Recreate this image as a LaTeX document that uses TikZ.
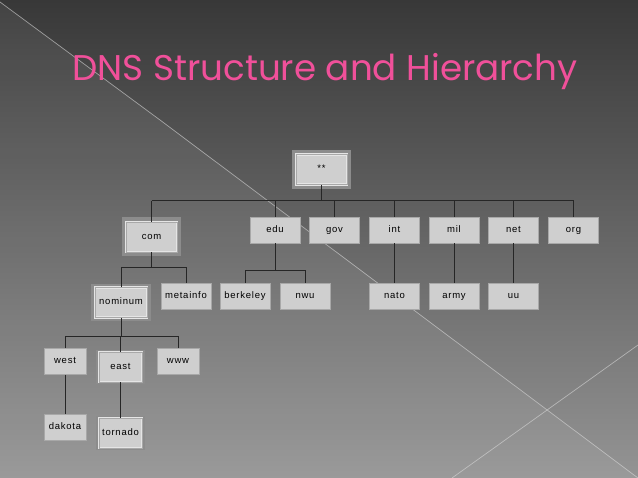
\documentclass[tikz,border=0pt]{standalone}
\usepackage{fontspec}
\setmainfont{Liberation Sans}
\newfontfamily\titlefont{Poppins}
\usepackage{graphicx}
\definecolor{bxfill}{HTML}{CFCFCF}
\definecolor{bxedge}{HTML}{A8A8A8}
\definecolor{hlfill}{HTML}{8C8C8C}
\definecolor{pinkt}{HTML}{F0509A}
\begin{document}
\begin{tikzpicture}[x=1pt,y=-1pt,
  bx/.style={draw=bxedge,line width=0.8pt,fill=bxfill,minimum width=50pt,minimum height=26pt,inner sep=0pt,text height=7pt,text depth=2pt,font=\fontsize{9.5}{10}\selectfont\addfontfeatures{LetterSpace=8}},
  hl/.style={bx,draw=white!80!gray,double=bxedge,double distance=0.6pt,minimum width=51pt,minimum height=30pt},
  hlback/.style={fill=hlfill,draw=none},
  ln/.style={draw=black!85,line width=0.8pt}]
\useasboundingbox (0,0) rectangle (638,478);
\shade[top color=black!78,bottom color=black!42] (0,0) rectangle (638,478);
\fill[white,opacity=0.06] (0,2) -- (160,120) -- (638,478) -- (0,478) -- cycle;
\draw[white!70!gray,opacity=0.6,line width=0.7pt] (0,2) -- (160,120) -- (638,478);
\draw[white!70!gray,opacity=0.6,line width=0.7pt] (638,345) -- (452,478);
\node[text=pinkt,anchor=center] (title) at (325,72) {\resizebox{505pt}{!}{\titlefont\fontsize{30}{30}\selectfont DNS Structure and Hierarchy}};
% highlight backs
\fill[hlback] (292,150) rectangle (351,189);
\fill[hlback] (122,217) rectangle (181,256);
\fill[hlback] (91,284) rectangle (151,321);
\fill[hlback] (96,350) rectangle (145,384);
\fill[hlback] (96,416) rectangle (145,450);
\node[hl] (root) at (321.5,169.5) {**};
\node[hl] (com) at (151.5,237) {com};
\node[bx] (edu) at (275,230) {edu};
\node[bx] (gov) at (334.5,230) {gov};
\node[bx] (int) at (394.5,230) {int};
\node[bx] (mil) at (454,230) {mil};
\node[bx] (net) at (513.5,230) {net};
\node[bx] (org) at (573.5,230) {org};
\node[hl,minimum width=52pt] (nominum) at (121,302.5) {nominum};
\node[bx] (metainfo) at (186,296) {metainfo};
\node[bx] (berkeley) at (245,296) {berkeley};
\node[bx] (nwu) at (305,296) {nwu};
\node[bx] (nato) at (394.5,296) {nato};
\node[bx] (army) at (454,296) {army};
\node[bx] (uu) at (513.5,296) {uu};
\node[bx,minimum width=42pt] (west) at (65,361.5) {west};
\node[hl,minimum width=43pt] (east) at (120.5,367) {east};
\node[bx,minimum width=42pt] (www) at (178,361.5) {www};
\node[bx,minimum width=42pt] (dakota) at (65,427.5) {dakota};
\node[hl,minimum width=43pt] (tornado) at (120.5,433) {tornado};
% connectors
\draw[ln] (root.south) -- ++(0,204-188) coordinate (rb);
\draw[ln] (com.north |- rb) -- (org.north |- rb);
\foreach \n in {com,edu,gov,int,mil,net,org}{\draw[ln] (\n.north) -- (\n.north |- rb);}
\draw[ln] (com.south) -- ++(0,270-255) coordinate (cb);
\draw[ln] (nominum.north |- cb) -- (metainfo.north |- cb);
\foreach \n in {nominum,metainfo}{\draw[ln] (\n.north) -- (\n.north |- cb);}
\draw[ln] (edu.south) -- ++(0,270-243) coordinate (eb);
\draw[ln] (berkeley.north |- eb) -- (nwu.north |- eb);
\foreach \n in {berkeley,nwu}{\draw[ln] (\n.north) -- (\n.north |- eb);}
\draw[ln] (int) -- (nato); \draw[ln] (mil) -- (army); \draw[ln] (net) -- (uu);
\draw[ln] (nominum.south) -- ++(0,336-317.5) coordinate (nb);
\draw[ln] (west.north |- nb) -- (www.north |- nb);
\foreach \n in {west,east,www}{\draw[ln] (\n.north) -- (\n.north |- nb);}
\draw[ln] (west) -- (dakota);
\draw[ln] (east) -- (tornado);
\end{tikzpicture}
\end{document}
